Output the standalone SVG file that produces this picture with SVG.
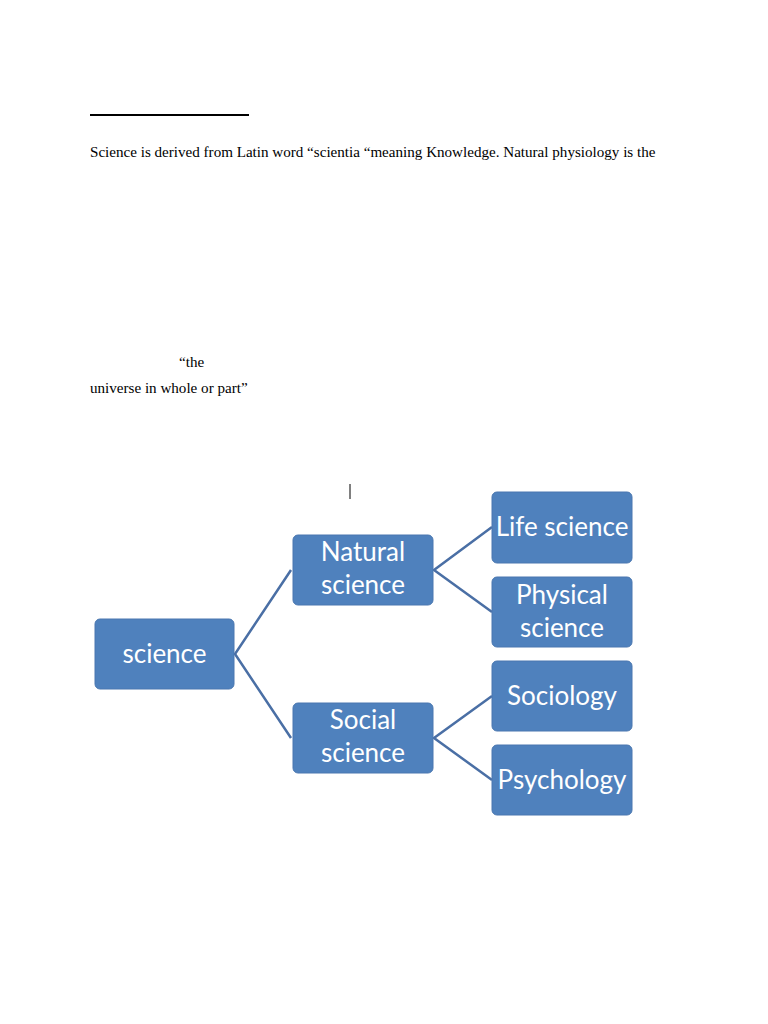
<svg xmlns="http://www.w3.org/2000/svg" width="768" height="1024" viewBox="0 0 768 1024">
<style>
.doc{font-family:"Liberation Serif","Times New Roman",serif;font-size:15.1px;fill:#000}
.box{fill:#4F81BD;stroke:#4A77B0;stroke-width:1}
.lbl{font-family:Lato,"Open Sans","Liberation Sans",sans-serif;font-size:26px;fill:#fff;text-anchor:middle}
.con{stroke:#4A6FA5;stroke-width:2.5;fill:none}
</style>
<rect width="768" height="1024" fill="#fff"/>
<line x1="90" y1="115" x2="249" y2="115" stroke="#000" stroke-width="2"/>
<text class="doc" x="90" y="157">Science is derived from Latin word “scientia “meaning Knowledge. Natural physiology is the</text>
<text class="doc" x="179" y="367">“the</text>
<text class="doc" x="90" y="393">universe in whole or part”</text>
<line x1="350" y1="484" x2="350" y2="499" stroke="#000" stroke-width="1"/>
<g id="connectors">
<polyline class="con" points="291,570 235,654 291,738"/>
<polyline class="con" points="492,527 434,570 492,612"/>
<polyline class="con" points="492,696 434,738 492,780"/>
</g>
<g id="n-science"><rect class="box" x="95" y="619" width="139" height="70" rx="5"/><text class="lbl" x="164.5" y="663">science</text></g>
<g id="n-natural"><rect class="box" x="293" y="535" width="140" height="70" rx="5"/><text class="lbl" x="363" y="561">Natural</text><text class="lbl" x="363" y="594">science</text></g>
<g id="n-social"><rect class="box" x="293" y="703" width="140" height="70" rx="5"/><text class="lbl" x="363" y="729">Social</text><text class="lbl" x="363" y="762">science</text></g>
<g id="n-life"><rect class="box" x="492" y="492" width="140" height="71" rx="5"/><text class="lbl" x="562" y="536">Life science</text></g>
<g id="n-physical"><rect class="box" x="492" y="577" width="140" height="70" rx="5"/><text class="lbl" x="562" y="604">Physical</text><text class="lbl" x="562" y="637">science</text></g>
<g id="n-sociology"><rect class="box" x="492" y="661" width="140" height="70" rx="5"/><text class="lbl" x="562" y="705">Sociology</text></g>
<g id="n-psychology"><rect class="box" x="492" y="745" width="140" height="70" rx="5"/><text class="lbl" x="562" y="789">Psychology</text></g>
</svg>
